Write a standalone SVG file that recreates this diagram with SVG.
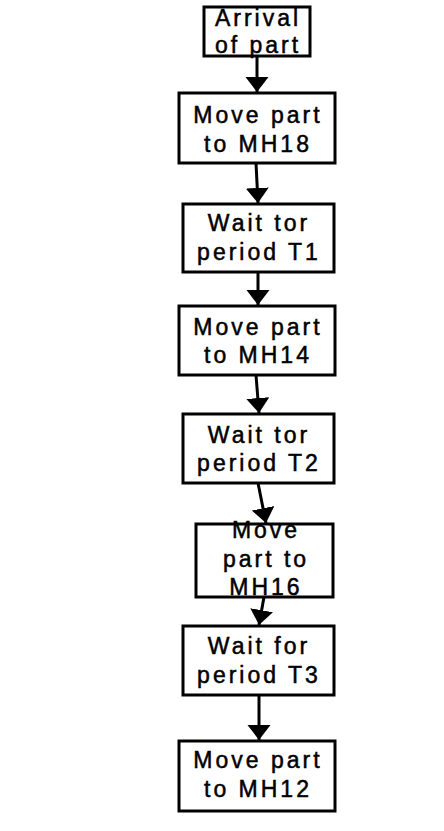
<svg xmlns="http://www.w3.org/2000/svg" width="444" height="831" viewBox="0 0 444 831">
<style>
.box{fill:#fff;stroke:#000;stroke-width:3}
.t{font-family:"Liberation Sans",Arial,sans-serif;font-size:23px;letter-spacing:3px;text-anchor:middle;fill:#000;stroke:#000;stroke-width:0.5}
.c{stroke:#000;stroke-width:3;fill:none}
</style>
<defs>
<marker id="ah" viewBox="0 0 15 23" refX="15" refY="11.5" markerWidth="5" markerHeight="7.67" markerUnits="strokeWidth" orient="auto">
<path d="M0,0 L15,11.5 L0,23 z" fill="#000"/>
</marker>
</defs>
<rect width="444" height="831" fill="#fff"/>
<g id="connectors">
<line class="c" x1="257" y1="56" x2="257" y2="92" marker-end="url(#ah)"/>
<line class="c" x1="256" y1="163" x2="258" y2="203" marker-end="url(#ah)"/>
<line class="c" x1="258" y1="272" x2="258" y2="305" marker-end="url(#ah)"/>
<line class="c" x1="256" y1="375" x2="259" y2="413" marker-end="url(#ah)"/>
<line class="c" x1="258" y1="483" x2="266" y2="523" marker-end="url(#ah)"/>
<line class="c" x1="264" y1="597" x2="259" y2="625" marker-end="url(#ah)"/>
<line class="c" x1="259" y1="695" x2="259" y2="740" marker-end="url(#ah)"/>
</g>
<g id="n1"><rect class="box" x="204" y="7" width="106" height="49"/>
<text class="t" x="258" y="26">Arrival</text><text class="t" x="258" y="53">of part</text></g>
<g id="n2"><rect class="box" x="179" y="93" width="156" height="70"/>
<text class="t" x="258" y="123">Move part</text><text class="t" x="258" y="152">to MH18</text></g>
<g id="n3"><rect class="box" x="183" y="204" width="151" height="68"/>
<text class="t" x="259" y="231">Wait tor</text><text class="t" x="259" y="260">period T1</text></g>
<g id="n4"><rect class="box" x="179" y="306" width="156" height="69"/>
<text class="t" x="258" y="335">Move part</text><text class="t" x="258" y="363">to MH14</text></g>
<g id="n5"><rect class="box" x="183" y="414" width="151" height="69"/>
<text class="t" x="259" y="443">Wait tor</text><text class="t" x="259" y="471">period T2</text></g>
<g id="n6"><rect class="box" x="196" y="524" width="137" height="73"/>
<text class="t" x="266" y="538">Move</text><text class="t" x="266" y="567">part to</text><text class="t" x="266" y="595">MH16</text></g>
<g id="n7"><rect class="box" x="183" y="626" width="151" height="69"/>
<text class="t" x="259" y="654">Wait for</text><text class="t" x="259" y="683">period T3</text></g>
<g id="n8"><rect class="box" x="179" y="741" width="156" height="70"/>
<text class="t" x="258" y="768">Move part</text><text class="t" x="258" y="797">to MH12</text></g>
</svg>
